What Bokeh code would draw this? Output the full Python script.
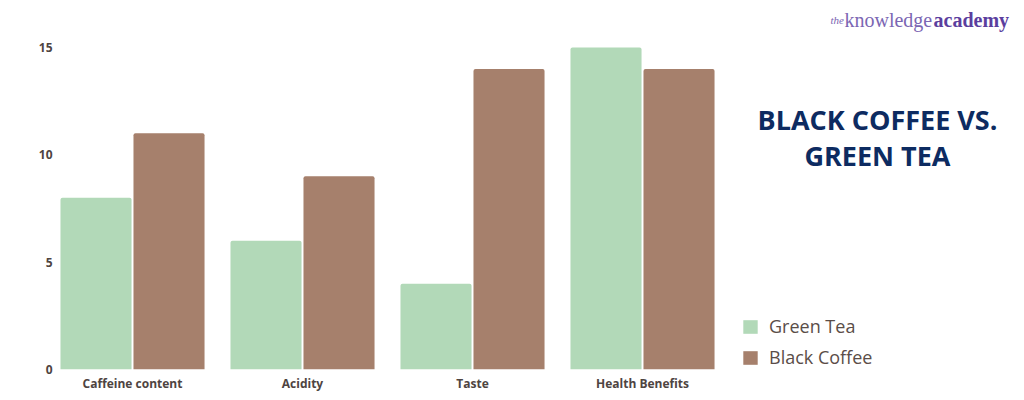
from bokeh.plotting import figure
from bokeh.models import Range1d, FixedTicker, Label, Legend, LegendItem
from bokeh.embed import file_html
from bokeh.resources import INLINE

categories = ["Caffeine content", "Acidity", "Taste", "Health Benefits"]
green_tea = [8, 6, 4, 15]
black_coffee = [11, 9, 14, 14]
series_names = ["Green Tea", "Black Coffee"]
y_ticks = [0, 5, 10, 15]

GREEN = "#B2D9B8"
BROWN = "#A6806C"
TEXT = "#4E4441"
NAVY = "#0D2B61"

p = figure(width=1024, height=400, output_backend="svg", toolbar_location=None,
           x_range=Range1d(0.547, 6.247), y_range=Range1d(0, 17.19),
           min_border_left=55, min_border_right=0, min_border_top=0, min_border_bottom=31)
p.outline_line_color = None
p.grid.visible = False
p.background_fill_color = "white"
p.border_fill_color = "white"

xs = [i + 1 for i in range(len(categories))]
off = 0.2147
w = 0.418
r1 = p.vbar(x=[x - off for x in xs], top=green_tea, width=w, bottom=0,
            fill_color=GREEN, line_color=None, border_radius=(2, 2, 0, 0))
r2 = p.vbar(x=[x + off for x in xs], top=black_coffee, width=w, bottom=0,
            fill_color=BROWN, line_color=None, border_radius=(2, 2, 0, 0))

# axes
p.xaxis.ticker = FixedTicker(ticks=xs)
p.xaxis.major_label_overrides = {x: c for x, c in zip(xs, categories)}
p.yaxis.ticker = FixedTicker(ticks=y_ticks)
for ax in (p.xaxis, p.yaxis):
    ax.axis_line_color = None
    ax.major_tick_line_color = None
    ax.minor_tick_line_color = None
    ax.major_tick_out = 0
    ax.major_tick_in = 0
    ax.major_label_text_color = TEXT
    ax.major_label_text_font = "Open Sans"
    ax.major_label_text_font_style = "bold"
    ax.major_label_text_font_size = "12px"
p.xaxis.major_label_standoff = 5
p.yaxis.major_label_standoff = 3

# legend
legend = Legend(items=[LegendItem(label=series_names[0], renderers=[r1]),
                       LegendItem(label=series_names[1], renderers=[r2])],
                location=(686, 0), padding=0, margin=0, spacing=7,
                glyph_width=18, glyph_height=17, label_height=17,
                label_standoff=10, label_text_font="Open Sans",
                label_text_font_size="18px", label_text_color="#5A4D48",
                border_line_color=None, background_fill_alpha=0)
p.add_layout(legend)

# title
for txt, y in (("BLACK COFFEE VS.", 11.64), ("GREEN TEA", 9.97)):
    p.add_layout(Label(x=5.382, y=y, text=txt, text_align="center",
                       text_baseline="alphabetic", text_font="Open Sans",
                       text_font_style="bold", text_font_size="27px",
                       text_color=NAVY))

# logo
p.add_layout(Label(x=5.106, y=16.3, text="the", text_font="Liberation Serif",
                   text_font_style="italic", text_font_size="11px",
                   text_color="#7B66B3", text_baseline="alphabetic"))
p.add_layout(Label(x=5.188, y=16.3, text="knowledge", text_font="Liberation Serif",
                   text_font_size="20px", text_color="#7B66B3",
                   text_baseline="alphabetic"))
p.add_layout(Label(x=5.712, y=16.3, text="academy", text_font="Liberation Serif",
                   text_font_style="bold", text_font_size="20px",
                   text_color="#5B3E9E", text_baseline="alphabetic"))

open("out.html", "w").write(file_html(p, INLINE))
